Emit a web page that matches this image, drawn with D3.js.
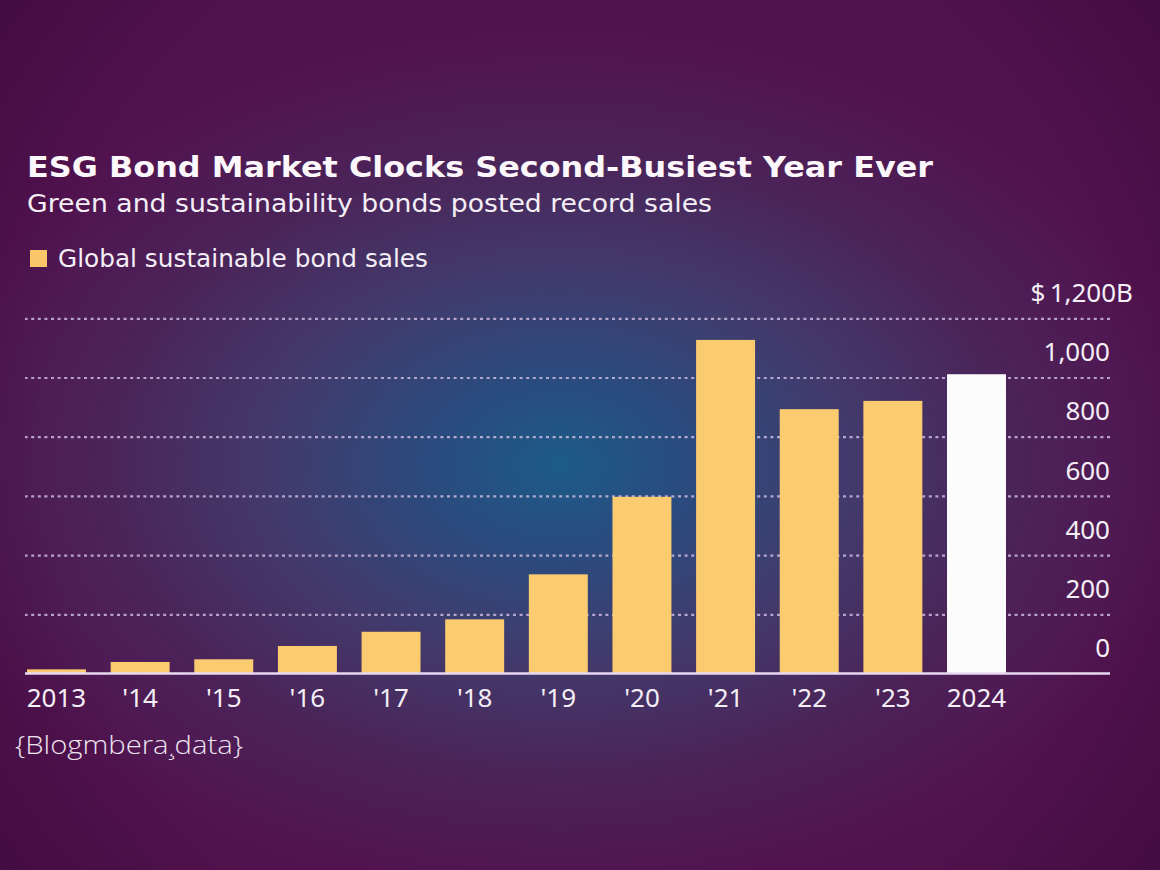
<!DOCTYPE html>
<html>
<head>
<meta charset="utf-8">
<style>
  body { margin: 0; background: #50134f; }
  svg { display: block; }
</style>
<script src="https://cdnjs.cloudflare.com/ajax/libs/d3/7.8.5/d3.min.js"></script>
</head>
<body>
<script>
// chart data
var years = ["2013", "'14", "'15", "'16", "'17", "'18", "'19", "'20", "'21", "'22", "'23", "2024"];
var sales = [14, 39, 48, 93, 141, 183, 335, 597, 1127, 893, 921, 1011]; // $B
var highlightYear = "2024";
var yTicks = [0, 200, 400, 600, 800, 1000, 1200];

var W = 1160, H = 870;
var plotLeft = 25, plotRight = 1110, plotBase = 673.5, plotTop = 318.3;

var svg = d3.select("body").append("svg")
    .attr("width", W)
    .attr("height", H);

// background glow
var defs = svg.append("defs");
var glow = defs.append("radialGradient")
    .attr("id", "glow")
    .attr("gradientUnits", "userSpaceOnUse")
    .attr("cx", 560).attr("cy", 465).attr("r", 640)
    .attr("gradientTransform", "translate(560,465) scale(1,0.68) translate(-560,-465)");
[[0, "#1c5b88"], [0.2, "#2a4b7e"], [0.45, "#423a6c"], [0.72, "#4b2358"], [1, "#52124f"]]
    .forEach(function (s) {
        glow.append("stop").attr("offset", s[0]).attr("stop-color", s[1]);
    });
var vig = defs.append("radialGradient")
    .attr("id", "vig")
    .attr("gradientUnits", "userSpaceOnUse")
    .attr("cx", 580).attr("cy", 435).attr("r", 760);
vig.append("stop").attr("offset", 0.7).attr("stop-color", "#200020").attr("stop-opacity", 0);
vig.append("stop").attr("offset", 1).attr("stop-color", "#200020").attr("stop-opacity", 0.35);

svg.append("rect").attr("width", W).attr("height", H).attr("fill", "url(#glow)");
svg.append("rect").attr("width", W).attr("height", H).attr("fill", "url(#vig)");

// scales
var x = d3.scaleBand()
    .domain(years)
    .range([22, 1011])
    .paddingInner(0.295)
    .paddingOuter(0.06);

var y = d3.scaleLinear()
    .domain([0, 1200])
    .range([plotBase, plotTop]);

// y axis / gridlines
var yAxis = svg.append("g")
    .attr("transform", "translate(" + plotRight + ",0)")
    .call(d3.axisLeft(y)
        .tickValues(yTicks)
        .tickSize(plotRight - plotLeft)
        .tickFormat(function (d) { return d === 1200 ? "$\u2009" + d3.format(",")(d) + "B" : d3.format(",")(d); }));
yAxis.select(".domain").remove();
yAxis.selectAll(".tick line")
    .attr("stroke", "#cbb9de")
    .attr("stroke-width", 2.2)
    .attr("stroke-dasharray", "3,3.6")
    .attr("opacity", function (d) { return d === 0 ? 0 : 0.85; });
yAxis.selectAll(".tick text")
    .attr("x", function (d) { return d === 1200 ? 23 : 0; })
    .attr("y", -26)
    .attr("dy", "0.35em")
    .attr("text-anchor", "end")
    .attr("fill", "#f4eef6")
    .style("font-family", "'Noto Sans', sans-serif")
    .style("font-size", "26px");

// bars
svg.append("g")
    .selectAll("rect")
    .data(sales)
    .enter()
    .append("rect")
    .attr("x", function (d, i) { return x(years[i]); })
    .attr("y", function (d) { return y(d); })
    .attr("width", x.bandwidth())
    .attr("height", function (d) { return y(0) - y(d); })
    .attr("fill", function (d, i) { return years[i] === highlightYear ? "#fdfcfd" : "#fbcb70"; });

// baseline
svg.append("line")
    .attr("x1", plotLeft).attr("x2", plotRight)
    .attr("y1", y(0)).attr("y2", y(0))
    .attr("stroke", "#e8d8f2")
    .attr("stroke-width", 2.5);

// x axis
var xAxis = svg.append("g")
    .attr("transform", "translate(0," + y(0) + ")")
    .call(d3.axisBottom(x).tickSize(0).tickPadding(15));
xAxis.select(".domain").remove();
xAxis.selectAll(".tick text")
    .attr("fill", "#f4eef6")
    .style("font-family", "'Noto Sans', sans-serif")
    .style("font-size", "26px");

// titles
svg.append("text")
    .attr("x", 27).attr("y", 177)
    .attr("textLength", 906).attr("lengthAdjust", "spacingAndGlyphs")
    .attr("fill", "#fbf7fb")
    .style("font-family", "'DejaVu Sans', sans-serif")
    .style("font-weight", "bold")
    .style("font-size", "28px")
    .text("ESG Bond Market Clocks Second-Busiest Year Ever");

svg.append("text")
    .attr("x", 27).attr("y", 212)
    .attr("textLength", 685).attr("lengthAdjust", "spacingAndGlyphs")
    .attr("fill", "#f4eef6")
    .style("font-family", "'DejaVu Sans', sans-serif")
    .style("font-size", "25px")
    .text("Green and sustainability bonds posted record sales");

// legend
svg.append("rect")
    .attr("x", 30).attr("y", 250)
    .attr("width", 17).attr("height", 17)
    .attr("fill", "#fbc66a");
svg.append("text")
    .attr("x", 58).attr("y", 267)
    .attr("textLength", 370).attr("lengthAdjust", "spacingAndGlyphs")
    .attr("fill", "#f4eef6")
    .style("font-family", "'DejaVu Sans', sans-serif")
    .style("font-size", "25px")
    .text("Global sustainable bond sales");

// source
svg.append("text")
    .attr("x", 15).attr("y", 754)
    .attr("textLength", 228).attr("lengthAdjust", "spacingAndGlyphs")
    .attr("fill", "#ece2f0")
    .style("font-family", "'Open Sans', sans-serif")
    .style("font-weight", 300)
    .style("font-size", "25px")
    .text("{Blogmbera\u00b8data}");
</script>
</body>
</html>
